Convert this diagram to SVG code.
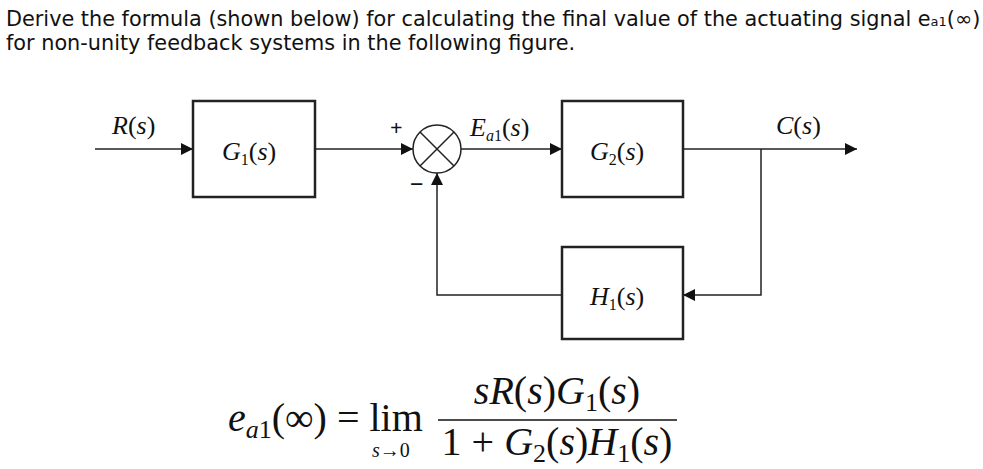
<svg xmlns="http://www.w3.org/2000/svg" width="983" height="469" viewBox="0 0 983 469">
<style>
.h{font-family:"DejaVu Sans","Liberation Sans",sans-serif;font-size:20.8px;fill:#111}
.m{font-family:"Liberation Serif",serif;font-style:italic;fill:#111}
.r{font-family:"Liberation Serif",serif;font-style:normal;fill:#111}
.b{fill:#fff;stroke:#222;stroke-width:2.5}
.l{fill:none;stroke:#222;stroke-width:1.5}
</style>
<defs><marker id="a2" viewBox="0 0 10 10" refX="10" refY="5" markerWidth="22" markerHeight="12" markerUnits="userSpaceOnUse" orient="auto"><path d="M0 0L10 5L0 10z" fill="#111"/></marker></defs>
<text class="h" x="6" y="26">Derive the formula (shown below) for calculating the final value of the actuating signal e<tspan font-size="13">a1</tspan>(∞)</text>
<text class="h" x="6" y="50">for non-unity feedback systems in the following figure.</text>
<g id="connectors">
<path class="l" d="M95 149H193" marker-end="url(#a2)"/>
<path class="l" d="M315 149H413" marker-end="url(#a2)"/>
<path class="l" d="M461 149H562" marker-end="url(#a2)"/>
<path class="l" d="M683 149H857" marker-end="url(#a2)"/>
<path class="l" d="M761 149V295H683" marker-end="url(#a2)"/>
<path class="l" d="M562 295H437V173" marker-end="url(#a2)"/>
</g>
<g id="G1"><rect class="b" x="193" y="101" width="122" height="96"/><text class="m" x="222" y="160" font-size="26">G<tspan class="r" font-size="16" dy="5">1</tspan><tspan class="r" dy="-5">(</tspan>s<tspan class="r">)</tspan></text></g>
<g id="G2"><rect class="b" x="562" y="101" width="121" height="96"/><text class="m" x="590" y="160" font-size="26">G<tspan class="r" font-size="16" dy="5">2</tspan><tspan class="r" dy="-5">(</tspan>s<tspan class="r">)</tspan></text></g>
<g id="H1"><rect class="b" x="562" y="247" width="121" height="92"/><text class="m" x="590" y="305" font-size="26">H<tspan class="r" font-size="16" dy="5">1</tspan><tspan class="r" dy="-5">(</tspan>s<tspan class="r">)</tspan></text></g>
<g id="sum"><circle class="l" cx="437" cy="149" r="24"/><path class="l" d="M420 132L454 166M454 132L420 166"/>
<text class="r" x="390" y="135" font-size="22" font-weight="bold">+</text><text class="r" x="410" y="192" font-size="24" font-weight="bold">−</text></g>
<g id="labels">
<text class="m" x="112" y="134" font-size="26">R<tspan class="r">(</tspan>s<tspan class="r">)</tspan></text>
<text class="m" x="470" y="136" font-size="26">E<tspan font-size="16" dy="5">a</tspan><tspan class="r" font-size="16">1</tspan><tspan class="r" dy="-5">(</tspan>s<tspan class="r">)</tspan></text>
<text class="m" x="776" y="134" font-size="26">C<tspan class="r">(</tspan>s<tspan class="r">)</tspan></text>
</g>
<g id="formula">
<text class="m" x="228" y="431" font-size="40">e<tspan font-size="26" dy="7">a</tspan><tspan class="r" font-size="26">1</tspan><tspan class="r" dy="-7">(∞) = lim</tspan></text>
<text class="m" x="372" y="457" font-size="20">s<tspan class="r">→0</tspan></text>
<text class="m" x="557" y="404" font-size="40" text-anchor="middle">sR<tspan class="r">(</tspan>s<tspan class="r">)</tspan>G<tspan class="r" font-size="26" dy="7">1</tspan><tspan class="r" dy="-7">(</tspan>s<tspan class="r">)</tspan></text>
<path d="M438 420H677" stroke="#111" stroke-width="1.5"/>
<text class="r" x="557" y="455" font-size="40" text-anchor="middle">1 + <tspan class="m">G</tspan><tspan font-size="26" dy="7">2</tspan><tspan dy="-7">(</tspan><tspan class="m">s</tspan>)<tspan class="m">H</tspan><tspan font-size="26" dy="7">1</tspan><tspan dy="-7">(</tspan><tspan class="m">s</tspan>)</text>
</g>
</svg>
